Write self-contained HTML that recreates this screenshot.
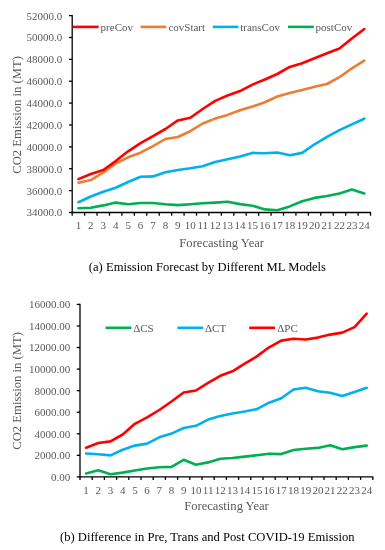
<!DOCTYPE html>
<html><head><meta charset="utf-8"><title>Emission Forecast Charts</title>
<style>
html,body{margin:0;padding:0;background:#fff;}
body{width:385px;height:550px;overflow:hidden;}
svg{display:block;font-family:"Liberation Serif","Times New Roman",serif;}
</style></head>
<body>
<svg width="385" height="550" viewBox="0 0 385 550">
<rect width="385" height="550" fill="#fff"/>
<line x1="69.00" y1="15.60" x2="72.20" y2="15.60" stroke="#000" stroke-width="1.3"/>
<text x="62.30" y="19.50" font-size="11" text-anchor="end" fill="#595959">52000.0</text>
<line x1="69.00" y1="37.48" x2="72.20" y2="37.48" stroke="#000" stroke-width="1.3"/>
<text x="62.30" y="41.38" font-size="11" text-anchor="end" fill="#595959">50000.0</text>
<line x1="69.00" y1="59.36" x2="72.20" y2="59.36" stroke="#000" stroke-width="1.3"/>
<text x="62.30" y="63.26" font-size="11" text-anchor="end" fill="#595959">48000.0</text>
<line x1="69.00" y1="81.23" x2="72.20" y2="81.23" stroke="#000" stroke-width="1.3"/>
<text x="62.30" y="85.13" font-size="11" text-anchor="end" fill="#595959">46000.0</text>
<line x1="69.00" y1="103.11" x2="72.20" y2="103.11" stroke="#000" stroke-width="1.3"/>
<text x="62.30" y="107.01" font-size="11" text-anchor="end" fill="#595959">44000.0</text>
<line x1="69.00" y1="124.99" x2="72.20" y2="124.99" stroke="#000" stroke-width="1.3"/>
<text x="62.30" y="128.89" font-size="11" text-anchor="end" fill="#595959">42000.0</text>
<line x1="69.00" y1="146.87" x2="72.20" y2="146.87" stroke="#000" stroke-width="1.3"/>
<text x="62.30" y="150.77" font-size="11" text-anchor="end" fill="#595959">40000.0</text>
<line x1="69.00" y1="168.74" x2="72.20" y2="168.74" stroke="#000" stroke-width="1.3"/>
<text x="62.30" y="172.64" font-size="11" text-anchor="end" fill="#595959">38000.0</text>
<line x1="69.00" y1="190.62" x2="72.20" y2="190.62" stroke="#000" stroke-width="1.3"/>
<text x="62.30" y="194.52" font-size="11" text-anchor="end" fill="#595959">36000.0</text>
<line x1="69.00" y1="212.50" x2="72.20" y2="212.50" stroke="#000" stroke-width="1.3"/>
<text x="62.30" y="216.40" font-size="11" text-anchor="end" fill="#595959">34000.0</text>
<line x1="72.20" y1="15.00" x2="72.20" y2="213.10" stroke="#000" stroke-width="1.3"/>
<line x1="71.60" y1="212.50" x2="371.12" y2="212.50" stroke="#000" stroke-width="1.3"/>
<line x1="72.20" y1="212.50" x2="72.20" y2="215.70" stroke="#000" stroke-width="1.3"/>
<line x1="84.63" y1="212.50" x2="84.63" y2="215.70" stroke="#000" stroke-width="1.3"/>
<line x1="97.06" y1="212.50" x2="97.06" y2="215.70" stroke="#000" stroke-width="1.3"/>
<line x1="109.49" y1="212.50" x2="109.49" y2="215.70" stroke="#000" stroke-width="1.3"/>
<line x1="121.92" y1="212.50" x2="121.92" y2="215.70" stroke="#000" stroke-width="1.3"/>
<line x1="134.35" y1="212.50" x2="134.35" y2="215.70" stroke="#000" stroke-width="1.3"/>
<line x1="146.78" y1="212.50" x2="146.78" y2="215.70" stroke="#000" stroke-width="1.3"/>
<line x1="159.21" y1="212.50" x2="159.21" y2="215.70" stroke="#000" stroke-width="1.3"/>
<line x1="171.64" y1="212.50" x2="171.64" y2="215.70" stroke="#000" stroke-width="1.3"/>
<line x1="184.07" y1="212.50" x2="184.07" y2="215.70" stroke="#000" stroke-width="1.3"/>
<line x1="196.50" y1="212.50" x2="196.50" y2="215.70" stroke="#000" stroke-width="1.3"/>
<line x1="208.93" y1="212.50" x2="208.93" y2="215.70" stroke="#000" stroke-width="1.3"/>
<line x1="221.36" y1="212.50" x2="221.36" y2="215.70" stroke="#000" stroke-width="1.3"/>
<line x1="233.79" y1="212.50" x2="233.79" y2="215.70" stroke="#000" stroke-width="1.3"/>
<line x1="246.22" y1="212.50" x2="246.22" y2="215.70" stroke="#000" stroke-width="1.3"/>
<line x1="258.65" y1="212.50" x2="258.65" y2="215.70" stroke="#000" stroke-width="1.3"/>
<line x1="271.08" y1="212.50" x2="271.08" y2="215.70" stroke="#000" stroke-width="1.3"/>
<line x1="283.51" y1="212.50" x2="283.51" y2="215.70" stroke="#000" stroke-width="1.3"/>
<line x1="295.94" y1="212.50" x2="295.94" y2="215.70" stroke="#000" stroke-width="1.3"/>
<line x1="308.37" y1="212.50" x2="308.37" y2="215.70" stroke="#000" stroke-width="1.3"/>
<line x1="320.80" y1="212.50" x2="320.80" y2="215.70" stroke="#000" stroke-width="1.3"/>
<line x1="333.23" y1="212.50" x2="333.23" y2="215.70" stroke="#000" stroke-width="1.3"/>
<line x1="345.66" y1="212.50" x2="345.66" y2="215.70" stroke="#000" stroke-width="1.3"/>
<line x1="358.09" y1="212.50" x2="358.09" y2="215.70" stroke="#000" stroke-width="1.3"/>
<line x1="370.52" y1="212.50" x2="370.52" y2="215.70" stroke="#000" stroke-width="1.3"/>
<text x="78.42" y="229.20" font-size="11" text-anchor="middle" fill="#595959">1</text>
<text x="90.84" y="229.20" font-size="11" text-anchor="middle" fill="#595959">2</text>
<text x="103.28" y="229.20" font-size="11" text-anchor="middle" fill="#595959">3</text>
<text x="115.70" y="229.20" font-size="11" text-anchor="middle" fill="#595959">4</text>
<text x="128.13" y="229.20" font-size="11" text-anchor="middle" fill="#595959">5</text>
<text x="140.56" y="229.20" font-size="11" text-anchor="middle" fill="#595959">6</text>
<text x="153.00" y="229.20" font-size="11" text-anchor="middle" fill="#595959">7</text>
<text x="165.43" y="229.20" font-size="11" text-anchor="middle" fill="#595959">8</text>
<text x="177.86" y="229.20" font-size="11" text-anchor="middle" fill="#595959">9</text>
<text x="190.28" y="229.20" font-size="11" text-anchor="middle" fill="#595959">10</text>
<text x="202.71" y="229.20" font-size="11" text-anchor="middle" fill="#595959">11</text>
<text x="215.14" y="229.20" font-size="11" text-anchor="middle" fill="#595959">12</text>
<text x="227.57" y="229.20" font-size="11" text-anchor="middle" fill="#595959">13</text>
<text x="240.00" y="229.20" font-size="11" text-anchor="middle" fill="#595959">14</text>
<text x="252.44" y="229.20" font-size="11" text-anchor="middle" fill="#595959">15</text>
<text x="264.87" y="229.20" font-size="11" text-anchor="middle" fill="#595959">16</text>
<text x="277.30" y="229.20" font-size="11" text-anchor="middle" fill="#595959">17</text>
<text x="289.73" y="229.20" font-size="11" text-anchor="middle" fill="#595959">18</text>
<text x="302.15" y="229.20" font-size="11" text-anchor="middle" fill="#595959">19</text>
<text x="314.58" y="229.20" font-size="11" text-anchor="middle" fill="#595959">20</text>
<text x="327.01" y="229.20" font-size="11" text-anchor="middle" fill="#595959">21</text>
<text x="339.44" y="229.20" font-size="11" text-anchor="middle" fill="#595959">22</text>
<text x="351.88" y="229.20" font-size="11" text-anchor="middle" fill="#595959">23</text>
<text x="364.31" y="229.20" font-size="11" text-anchor="middle" fill="#595959">24</text>
<text x="221.70" y="247.20" font-size="12.6" text-anchor="middle" fill="#595959">Forecasting Year</text>
<text x="21.40" y="114.90" font-size="12.65" text-anchor="middle" fill="#595959" transform="rotate(-90 21.4 114.9)">CO2 Emission in (MT)</text>
<polyline points="78.42,182.80 90.84,180.10 103.28,172.40 115.70,163.50 128.13,157.30 140.56,152.70 153.00,146.20 165.43,139.00 177.86,137.00 190.28,131.20 202.71,123.50 215.14,118.60 227.57,114.90 240.00,110.20 252.44,106.60 264.87,102.30 277.30,96.50 289.73,93.00 302.15,90.00 314.58,86.70 327.01,84.00 339.44,77.20 351.88,68.30 364.31,60.60" fill="none" stroke="#ED7D31" stroke-width="2.6" stroke-linejoin="round" stroke-linecap="round"/>
<polyline points="78.42,202.20 90.84,196.50 103.28,191.70 115.70,187.70 128.13,182.00 140.56,176.80 153.00,176.40 165.43,172.20 177.86,170.00 190.28,168.30 202.71,166.30 215.14,161.90 227.57,159.30 240.00,156.60 252.44,152.90 264.87,153.30 277.30,152.50 289.73,155.20 302.15,152.90 314.58,144.30 327.01,136.80 339.44,130.20 351.88,124.30 364.31,118.70" fill="none" stroke="#00B0F0" stroke-width="2.6" stroke-linejoin="round" stroke-linecap="round"/>
<polyline points="78.42,208.30 90.84,207.80 103.28,205.40 115.70,202.60 128.13,204.30 140.56,203.00 153.00,203.00 165.43,204.30 177.86,205.10 190.28,204.30 202.71,203.30 215.14,202.60 227.57,201.70 240.00,204.10 252.44,205.70 264.87,209.40 277.30,210.30 289.73,206.40 302.15,201.20 314.58,197.90 327.01,196.00 339.44,193.50 351.88,189.60 364.31,193.50" fill="none" stroke="#00B050" stroke-width="2.6" stroke-linejoin="round" stroke-linecap="round"/>
<polyline points="78.42,179.10 90.84,174.00 103.28,170.00 115.70,161.10 128.13,151.30 140.56,143.10 153.00,136.10 165.43,129.00 177.86,120.40 190.28,117.80 202.71,109.00 215.14,100.90 227.57,95.50 240.00,91.10 252.44,84.60 264.87,79.50 277.30,74.00 289.73,66.90 302.15,63.20 314.58,58.20 327.01,53.20 339.44,48.50 351.88,38.50 364.31,29.00" fill="none" stroke="#FF0000" stroke-width="2.6" stroke-linejoin="round" stroke-linecap="round"/>
<line x1="72.8" y1="26.9" x2="98.6" y2="26.9" stroke="#FF0000" stroke-width="2.6" stroke-linecap="butt"/>
<text x="100.60" y="30.80" font-size="11" text-anchor="start" fill="#595959">preCov</text>
<line x1="140.6" y1="26.9" x2="166.2" y2="26.9" stroke="#ED7D31" stroke-width="2.6" stroke-linecap="butt"/>
<text x="168.40" y="30.80" font-size="11" text-anchor="start" fill="#595959">covStart</text>
<line x1="212.8" y1="26.9" x2="238.4" y2="26.9" stroke="#00B0F0" stroke-width="2.6" stroke-linecap="butt"/>
<text x="240.20" y="30.80" font-size="11" text-anchor="start" fill="#595959">transCov</text>
<line x1="288.0" y1="26.9" x2="313.8" y2="26.9" stroke="#00B050" stroke-width="2.6" stroke-linecap="butt"/>
<text x="315.60" y="30.80" font-size="11" text-anchor="start" fill="#595959">postCov</text>
<text x="207.40" y="270.90" font-size="12.6" text-anchor="middle" fill="#000">(a) Emission Forecast by Different ML Models</text>
<line x1="76.80" y1="304.40" x2="80.00" y2="304.40" stroke="#000" stroke-width="1.3"/>
<text x="70.30" y="308.30" font-size="11" text-anchor="end" fill="#595959">16000.00</text>
<line x1="76.80" y1="325.96" x2="80.00" y2="325.96" stroke="#000" stroke-width="1.3"/>
<text x="70.30" y="329.86" font-size="11" text-anchor="end" fill="#595959">14000.00</text>
<line x1="76.80" y1="347.52" x2="80.00" y2="347.52" stroke="#000" stroke-width="1.3"/>
<text x="70.30" y="351.42" font-size="11" text-anchor="end" fill="#595959">12000.00</text>
<line x1="76.80" y1="369.09" x2="80.00" y2="369.09" stroke="#000" stroke-width="1.3"/>
<text x="70.30" y="372.99" font-size="11" text-anchor="end" fill="#595959">10000.00</text>
<line x1="76.80" y1="390.65" x2="80.00" y2="390.65" stroke="#000" stroke-width="1.3"/>
<text x="70.30" y="394.55" font-size="11" text-anchor="end" fill="#595959">8000.00</text>
<line x1="76.80" y1="412.21" x2="80.00" y2="412.21" stroke="#000" stroke-width="1.3"/>
<text x="70.30" y="416.11" font-size="11" text-anchor="end" fill="#595959">6000.00</text>
<line x1="76.80" y1="433.77" x2="80.00" y2="433.77" stroke="#000" stroke-width="1.3"/>
<text x="70.30" y="437.67" font-size="11" text-anchor="end" fill="#595959">4000.00</text>
<line x1="76.80" y1="455.34" x2="80.00" y2="455.34" stroke="#000" stroke-width="1.3"/>
<text x="70.30" y="459.24" font-size="11" text-anchor="end" fill="#595959">2000.00</text>
<line x1="76.80" y1="476.90" x2="80.00" y2="476.90" stroke="#000" stroke-width="1.3"/>
<text x="70.30" y="480.80" font-size="11" text-anchor="end" fill="#595959">0.00</text>
<line x1="80.00" y1="303.80" x2="80.00" y2="477.50" stroke="#000" stroke-width="1.3"/>
<line x1="79.40" y1="476.90" x2="373.40" y2="476.90" stroke="#000" stroke-width="1.3"/>
<line x1="80.00" y1="476.90" x2="80.00" y2="479.90" stroke="#000" stroke-width="1.3"/>
<line x1="92.20" y1="476.90" x2="92.20" y2="479.90" stroke="#000" stroke-width="1.3"/>
<line x1="104.40" y1="476.90" x2="104.40" y2="479.90" stroke="#000" stroke-width="1.3"/>
<line x1="116.60" y1="476.90" x2="116.60" y2="479.90" stroke="#000" stroke-width="1.3"/>
<line x1="128.80" y1="476.90" x2="128.80" y2="479.90" stroke="#000" stroke-width="1.3"/>
<line x1="141.00" y1="476.90" x2="141.00" y2="479.90" stroke="#000" stroke-width="1.3"/>
<line x1="153.20" y1="476.90" x2="153.20" y2="479.90" stroke="#000" stroke-width="1.3"/>
<line x1="165.40" y1="476.90" x2="165.40" y2="479.90" stroke="#000" stroke-width="1.3"/>
<line x1="177.60" y1="476.90" x2="177.60" y2="479.90" stroke="#000" stroke-width="1.3"/>
<line x1="189.80" y1="476.90" x2="189.80" y2="479.90" stroke="#000" stroke-width="1.3"/>
<line x1="202.00" y1="476.90" x2="202.00" y2="479.90" stroke="#000" stroke-width="1.3"/>
<line x1="214.20" y1="476.90" x2="214.20" y2="479.90" stroke="#000" stroke-width="1.3"/>
<line x1="226.40" y1="476.90" x2="226.40" y2="479.90" stroke="#000" stroke-width="1.3"/>
<line x1="238.60" y1="476.90" x2="238.60" y2="479.90" stroke="#000" stroke-width="1.3"/>
<line x1="250.80" y1="476.90" x2="250.80" y2="479.90" stroke="#000" stroke-width="1.3"/>
<line x1="263.00" y1="476.90" x2="263.00" y2="479.90" stroke="#000" stroke-width="1.3"/>
<line x1="275.20" y1="476.90" x2="275.20" y2="479.90" stroke="#000" stroke-width="1.3"/>
<line x1="287.40" y1="476.90" x2="287.40" y2="479.90" stroke="#000" stroke-width="1.3"/>
<line x1="299.60" y1="476.90" x2="299.60" y2="479.90" stroke="#000" stroke-width="1.3"/>
<line x1="311.80" y1="476.90" x2="311.80" y2="479.90" stroke="#000" stroke-width="1.3"/>
<line x1="324.00" y1="476.90" x2="324.00" y2="479.90" stroke="#000" stroke-width="1.3"/>
<line x1="336.20" y1="476.90" x2="336.20" y2="479.90" stroke="#000" stroke-width="1.3"/>
<line x1="348.40" y1="476.90" x2="348.40" y2="479.90" stroke="#000" stroke-width="1.3"/>
<line x1="360.60" y1="476.90" x2="360.60" y2="479.90" stroke="#000" stroke-width="1.3"/>
<line x1="372.80" y1="476.90" x2="372.80" y2="479.90" stroke="#000" stroke-width="1.3"/>
<text x="86.10" y="494.00" font-size="11" text-anchor="middle" fill="#595959">1</text>
<text x="98.30" y="494.00" font-size="11" text-anchor="middle" fill="#595959">2</text>
<text x="110.50" y="494.00" font-size="11" text-anchor="middle" fill="#595959">3</text>
<text x="122.70" y="494.00" font-size="11" text-anchor="middle" fill="#595959">4</text>
<text x="134.90" y="494.00" font-size="11" text-anchor="middle" fill="#595959">5</text>
<text x="147.10" y="494.00" font-size="11" text-anchor="middle" fill="#595959">6</text>
<text x="159.30" y="494.00" font-size="11" text-anchor="middle" fill="#595959">7</text>
<text x="171.50" y="494.00" font-size="11" text-anchor="middle" fill="#595959">8</text>
<text x="183.70" y="494.00" font-size="11" text-anchor="middle" fill="#595959">9</text>
<text x="195.90" y="494.00" font-size="11" text-anchor="middle" fill="#595959">10</text>
<text x="208.10" y="494.00" font-size="11" text-anchor="middle" fill="#595959">11</text>
<text x="220.30" y="494.00" font-size="11" text-anchor="middle" fill="#595959">12</text>
<text x="232.50" y="494.00" font-size="11" text-anchor="middle" fill="#595959">13</text>
<text x="244.70" y="494.00" font-size="11" text-anchor="middle" fill="#595959">14</text>
<text x="256.90" y="494.00" font-size="11" text-anchor="middle" fill="#595959">15</text>
<text x="269.10" y="494.00" font-size="11" text-anchor="middle" fill="#595959">16</text>
<text x="281.30" y="494.00" font-size="11" text-anchor="middle" fill="#595959">17</text>
<text x="293.50" y="494.00" font-size="11" text-anchor="middle" fill="#595959">18</text>
<text x="305.70" y="494.00" font-size="11" text-anchor="middle" fill="#595959">19</text>
<text x="317.90" y="494.00" font-size="11" text-anchor="middle" fill="#595959">20</text>
<text x="330.10" y="494.00" font-size="11" text-anchor="middle" fill="#595959">21</text>
<text x="342.30" y="494.00" font-size="11" text-anchor="middle" fill="#595959">22</text>
<text x="354.50" y="494.00" font-size="11" text-anchor="middle" fill="#595959">23</text>
<text x="366.70" y="494.00" font-size="11" text-anchor="middle" fill="#595959">24</text>
<text x="226.50" y="509.80" font-size="12.6" text-anchor="middle" fill="#595959">Forecasting Year</text>
<text x="21.30" y="390.90" font-size="12.65" text-anchor="middle" fill="#595959" transform="rotate(-90 21.3 390.9)">CO2 Emission in (MT)</text>
<polyline points="86.10,473.40 98.30,470.20 110.50,474.20 122.70,472.60 134.90,470.50 147.10,468.50 159.30,467.30 171.50,466.90 183.70,459.80 195.90,464.80 208.10,462.40 220.30,458.80 232.50,458.00 244.70,456.60 256.90,455.30 269.10,453.80 281.30,454.10 293.50,450.00 305.70,448.80 317.90,447.90 330.10,445.30 342.30,449.30 354.50,447.10 366.70,445.60" fill="none" stroke="#00B050" stroke-width="2.6" stroke-linejoin="round" stroke-linecap="round"/>
<polyline points="86.10,453.50 98.30,454.30 110.50,455.40 122.70,449.80 134.90,445.60 147.10,443.60 159.30,437.30 171.50,433.60 183.70,428.00 195.90,425.80 208.10,419.60 220.30,416.10 232.50,413.50 244.70,411.50 256.90,409.10 269.10,402.70 281.30,398.20 293.50,389.50 305.70,387.80 317.90,391.30 330.10,392.80 342.30,396.00 354.50,392.00 366.70,387.80" fill="none" stroke="#00B0F0" stroke-width="2.6" stroke-linejoin="round" stroke-linecap="round"/>
<polyline points="86.10,447.70 98.30,443.00 110.50,441.40 122.70,434.50 134.90,423.80 147.10,417.30 159.30,410.00 171.50,401.50 183.70,392.50 195.90,390.50 208.10,382.90 220.30,375.80 232.50,371.30 244.70,363.60 256.90,356.40 269.10,347.30 281.30,340.60 293.50,338.70 305.70,339.50 317.90,337.60 330.10,334.60 342.30,332.60 354.50,327.10 366.70,313.60" fill="none" stroke="#FF0000" stroke-width="2.6" stroke-linejoin="round" stroke-linecap="round"/>
<line x1="105.5" y1="327.8" x2="131.4" y2="327.8" stroke="#00B050" stroke-width="2.6" stroke-linecap="butt"/>
<text x="133.20" y="331.80" font-size="11" text-anchor="start" fill="#595959">&#916;CS</text>
<line x1="177.4" y1="327.8" x2="203.2" y2="327.8" stroke="#00B0F0" stroke-width="2.6" stroke-linecap="butt"/>
<text x="205.00" y="331.80" font-size="11" text-anchor="start" fill="#595959">&#916;CT</text>
<line x1="249.2" y1="327.8" x2="275.0" y2="327.8" stroke="#FF0000" stroke-width="2.6" stroke-linecap="butt"/>
<text x="277.20" y="331.80" font-size="11" text-anchor="start" fill="#595959">&#916;PC</text>
<text x="207.30" y="540.80" font-size="12.6" text-anchor="middle" fill="#000">(b) Difference in Pre, Trans and Post COVID-19 Emission</text>
</svg>
</body></html>
